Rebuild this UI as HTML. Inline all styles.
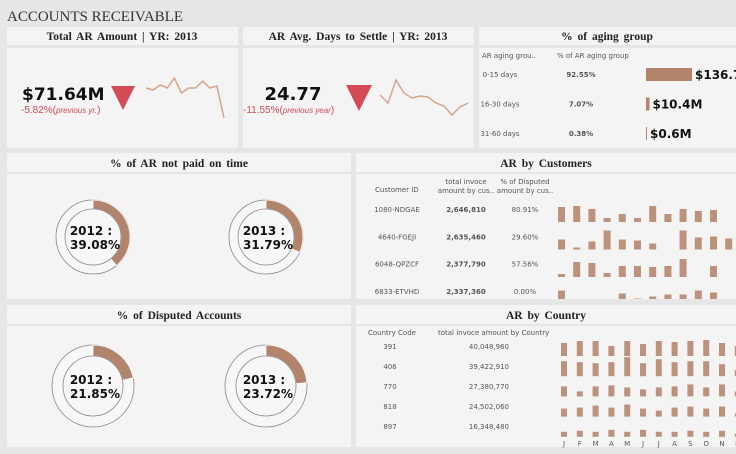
<!DOCTYPE html>
<html><head><meta charset="utf-8"><style>
html,body{margin:0;padding:0;background:#e6e6e6;}
svg{display:block;font-family:"Liberation Sans","DejaVu Sans",sans-serif;}
.hd{font-family:"Liberation Serif",serif;font-weight:bold;font-size:11.5px;fill:#222;text-anchor:middle;word-spacing:2px;}
.sm{font-family:"DejaVu Sans",sans-serif;font-size:7px;fill:#555;}
</style></head><body>
<svg id="dash" width="736" height="454" viewBox="0 0 736 454">
<rect width="736" height="454" fill="#e6e6e6"/>
<text x="7" y="21" font-family="Liberation Serif,serif" font-size="15" fill="#333">ACCOUNTS RECEIVABLE</text>
<g fill="#f4f4f4">
<rect x="7" y="27" width="231" height="18"/><rect x="7" y="48" width="231" height="100"/>
<rect x="243" y="27" width="231" height="18"/><rect x="243" y="48" width="231" height="100"/>
<rect x="479" y="27" width="257" height="18"/><rect x="479" y="48" width="257" height="100"/>
<rect x="7" y="153" width="344" height="19"/><rect x="7" y="174" width="344" height="125"/>
<rect x="7" y="305" width="344" height="19"/><rect x="7" y="326" width="344" height="121"/>
<rect x="356" y="153" width="380" height="19"/><rect x="356" y="174" width="380" height="125"/>
<rect x="356" y="305" width="380" height="19"/><rect x="356" y="326" width="380" height="121"/>
</g>
<text class="hd" x="122" y="40">Total AR Amount | YR: 2013</text>
<text class="hd" x="358" y="40">AR Avg. Days to Settle | YR: 2013</text>
<text class="hd" x="607" y="40">% of aging group</text>
<text class="hd" x="179" y="167">% of AR not paid on time</text>
<text class="hd" x="179" y="319">% of Disputed Accounts</text>
<text class="hd" x="546" y="167">AR by Customers</text>
<text class="hd" x="546" y="319">AR by Country</text>

<text x="22" y="100" font-size="17" font-weight="bold" font-family="DejaVu Sans,sans-serif" fill="#111">$71.64M</text>
<polygon points="111,86 135,86 123,110" fill="#d44a55"/>
<text x="21" y="113" font-size="10" fill="#d44a55">-5.82%(<tspan font-style="italic" font-size="8">previous yr.</tspan>)</text>
<text x="293" y="100" font-size="18" font-weight="bold" font-family="DejaVu Sans,sans-serif" fill="#111" text-anchor="middle">24.77</text>
<polygon points="346,85 372,85 359,111" fill="#d44a55"/>
<text x="243" y="113" font-size="10" fill="#d44a55">-11.55%(<tspan font-style="italic" font-size="8">previous year</tspan>)</text>
<polyline id="spark1" fill="none" stroke="#d4a48c" stroke-width="1.5"/>
<polyline id="spark2" fill="none" stroke="#d4a48c" stroke-width="1.5"/>

<text class="sm" x="482" y="58">AR aging grou..</text>
<text class="sm" x="557" y="58">% of AR aging group</text>
<g id="aging"></g>

<text class="sm" x="375" y="192">Customer ID</text>
<text class="sm" x="466" y="184" text-anchor="middle">total invoce</text>
<text class="sm" x="466" y="193" text-anchor="middle">amount by cus..</text>
<text class="sm" x="525" y="184" text-anchor="middle">% of Disputed</text>
<text class="sm" x="525" y="193" text-anchor="middle">amount by cus..</text>
<clipPath id="cclip"><rect x="356" y="174" width="380" height="125"/></clipPath>
<g id="cust" clip-path="url(#cclip)"></g>

<text class="sm" x="368" y="335">Country Code</text>
<text class="sm" x="438" y="335">total invoce amount by Country</text>
<g id="country"></g>
<g id="donuts"></g>
</svg>
<script>
const NS="http://www.w3.org/2000/svg";
function mk(tag,attrs,parent,txt){const e=document.createElementNS(NS,tag);for(const k in attrs)e.setAttribute(k,attrs[k]);if(txt!==undefined)e.textContent=txt;parent.appendChild(e);return e;}
const C="#b3846c";

const sparkAR=[30,28,33,30,40,25,30,30,37,30,32,0];
const sparkDays=[23,15,38,25,20,22,21,15,12,3,11,15];
function spark(id,vals,x0,x1,y0,y1){
  const mn=Math.min(...vals),mx=Math.max(...vals);
  const xs=i=>x0+(x1-x0)*i/(vals.length-1);
  const ys=v=>y1-(y1-y0)*(v-mn)/(mx-mn);
  document.getElementById(id).setAttribute('points',vals.map((v,i)=>xs(i)+','+ys(v)).join(' '));
}
spark('spark1',sparkAR,146,224,78,118);
spark('spark2',sparkDays,380,468,80,115);

const agingGroups=["0-15 days","16-30 days","31-60 days"];
const agingPct=["92.55%","7.07%","0.38%"];
const agingAmt=[136.7,10.4,0.6];
const ag=document.getElementById('aging');
agingGroups.forEach((g,i)=>{
  const y=77+i*29.5;
  let t=mk('text',{class:'sm',x:500,y:y,'text-anchor':'middle',fill:'#777'},ag,g);
  
  t=mk('text',{class:'sm',x:581,y:y,'text-anchor':'middle','font-weight':'bold'},ag,agingPct[i]);
  
  const w=Math.max(1,46*agingAmt[i]/136.7);
  const r=mk('rect',{x:646,y:y-9,width:w,height:13,fill:C},ag);
  
  t=mk('text',{x:646+w+3,y:y+2,'font-size':12,'font-weight':'bold','font-family':'DejaVu Sans,sans-serif',fill:'#111'},ag,'$'+agingAmt[i]+'M');
  
});

const custIds=["1080-NDGAE","4640-FGEJI","6048-QPZCF","6833-ETVHD"];
const custTotals=["2,646,810","2,635,460","2,377,790","2,337,360"];
const custDisputed=["80.91%","29.60%","57.56%","0.00%"];
const custMonthly=[
 [15,16,13,4,8,4,16,8,13,11,12,0],
 [10,2,8,19,10,9,6,0,19,12,13,11],
 [3,15,14,4,11,11,10,11,18,0,11,0],
 [14,0,0,0,11,6,8,10,10,14,12,0]];
const cg=document.getElementById('cust');
custIds.forEach((id,i)=>{
  const y=212+i*27.3;
  let t=mk('text',{class:'sm',x:397,y:y,'text-anchor':'middle',fill:'#777'},cg,id);
  
  t=mk('text',{class:'sm',x:466,y:y,'text-anchor':'middle','font-weight':'bold',fill:'#333'},cg,custTotals[i]);
  
  t=mk('text',{class:'sm',x:525,y:y,'text-anchor':'middle',fill:'#555'},cg,custDisputed[i]);
  
  const base=222+i*27.5;
  custMonthly[i].forEach((v,m)=>{if(!v)return;
    const r=mk('rect',{x:558+m*15.2,y:base-v,width:7,height:v,fill:"#bd927c"},cg);
    });
});

const countryCodes=["391","406","770","818","897"];
const countryTotals=["40,048,960","39,422,910","27,380,770","24,502,060","16,348,480"];
const countryMonthly=[
 [13,15,15,10,15,12,15,14,15,16,13,10],
 [15,14,13,14,19,13,17,14,15,15,12,6],
 [10,5,10,11,9,7,9,10,12,9,12,5],
 [8,9,11,9,12,8,6,9,10,8,10,3],
 [5,6,5,7,5,7,5,5,6,5,6,3]];
const months=["J","F","M","A","M","J","J","A","S","O","N","D"];
const kg=document.getElementById('country');
countryCodes.forEach((c,i)=>{
  const y=349+i*20;
  let t=mk('text',{class:'sm',x:390,y:y,'text-anchor':'middle',fill:'#666'},kg,c);
  
  t=mk('text',{class:'sm',x:509,y:y,'text-anchor':'end',fill:'#666'},kg,countryTotals[i]);
  
  const base=356+i*20.2;
  countryMonthly[i].forEach((v,m)=>{
    const r=mk('rect',{x:561+m*15.8,y:base-v,width:6,height:v,fill:"#bd927c"},kg);
    });
});
months.forEach((mo,m)=>{
  const t=mk('text',{class:'sm',x:564+m*15.8,y:446,'text-anchor':'middle',fill:'#777'},kg,mo);
  
});

const donutYears=["2012","2013","2012","2013"];
const donutPct=[39.08,31.79,21.85,23.72];
const donutCx=[93,266,93,266];
const donutCy=[237,237,386,386];
const donutR=[[37,28],[37,28],[41,30],[41,30]];
const dg=document.getElementById('donuts');
donutPct.forEach((p,i)=>{
  const cx=donutCx[i],cy=donutCy[i],R=donutR[i][0],r=donutR[i][1];
  let c=mk('circle',{cx:cx,cy:cy,r:R,fill:'#f7f7f7',stroke:'#888','stroke-width':0.8},dg);
  
  const a=2*Math.PI*p/100,large=p>50?1:0;
  const pt=(rad,ang)=>[cx+rad*Math.sin(ang),cy-rad*Math.cos(ang)];
  const [x1,y1]=pt(R,0),[x2,y2]=pt(R,a),[x3,y3]=pt(r,a),[x4,y4]=pt(r,0);
  const path=mk('path',{d:`M${x1},${y1}A${R},${R} 0 ${large} 1 ${x2},${y2}L${x3},${y3}A${r},${r} 0 ${large} 0 ${x4},${y4}Z`,fill:C,stroke:'#fff','stroke-width':0.8},dg);
  
  c=mk('circle',{cx:cx,cy:cy,r:r,fill:'#f7f7f7',stroke:'#888','stroke-width':0.8},dg);
  
  let t=mk('text',{x:cx-2,y:cy-2,'text-anchor':'middle','font-size':12,'font-weight':'bold','font-family':'DejaVu Sans,sans-serif',fill:'#111'},dg,donutYears[i]+' :');
  
  t=mk('text',{x:cx+2,y:cy+12,'text-anchor':'middle','font-size':12,'font-weight':'bold','font-family':'DejaVu Sans,sans-serif',fill:'#111'},dg,p.toFixed(2)+'%');
  
});
</script>
</body></html>
